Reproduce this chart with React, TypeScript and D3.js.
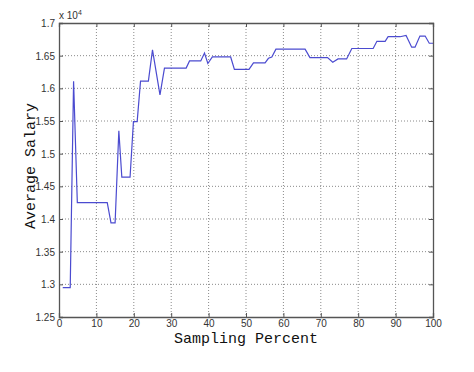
import * as d3 from "d3";
import { useEffect, useRef } from "react";

const W = 474;
const H = 372;
const margin = { top: 23, right: 41, bottom: 55, left: 59 };

// sampling percent vs average salary (x 10^4)
const percent = [1, 3, 3.9, 4.9, 12.9, 13.9, 15, 16, 16.8, 19, 19.9, 20.9, 21.8, 23.9, 25, 27, 28.2, 34, 34.9, 37.9, 38.9, 39.8, 41, 45.9, 46.9, 50.8, 52, 55.1, 56, 56.9, 58, 65.8, 67.1, 71.8, 73.2, 74.6, 76.9, 78.3, 84, 85, 87.2, 88, 91.2, 92.8, 94.3, 95.2, 96.5, 97.9, 99, 100];
const salary = [1.295, 1.295, 1.611, 1.425, 1.425, 1.394, 1.394, 1.535, 1.464, 1.464, 1.549, 1.549, 1.611, 1.611, 1.659, 1.59, 1.631, 1.631, 1.642, 1.642, 1.654, 1.638, 1.648, 1.648, 1.629, 1.629, 1.639, 1.639, 1.646, 1.648, 1.66, 1.66, 1.647, 1.647, 1.64, 1.645, 1.645, 1.661, 1.661, 1.672, 1.672, 1.679, 1.679, 1.681, 1.663, 1.663, 1.68, 1.68, 1.669, 1.669];

const xTicks = [0, 10, 20, 30, 40, 50, 60, 70, 80, 90, 100];
const yTicks = [1.25, 1.3, 1.35, 1.4, 1.45, 1.5, 1.55, 1.6, 1.65, 1.7];

export default function App() {
  const svgRef = useRef<SVGSVGElement>(null);

  useEffect(() => {
    const svg = d3.select(svgRef.current);
    svg.selectAll("*").remove();

    const iw = W - margin.left - margin.right;
    const ih = H - margin.top - margin.bottom;

    const x = d3.scaleLinear().domain([0, 100]).range([0, iw]);
    const y = d3.scaleLinear().domain([1.25, 1.7]).range([ih, 0]);

    const g = svg.append("g").attr("transform", `translate(${margin.left},${margin.top})`);

    // dotted grid
    g.selectAll(".gx")
      .data(xTicks.slice(1, -1))
      .enter()
      .append("line")
      .attr("x1", d => x(d)).attr("x2", d => x(d))
      .attr("y1", 0).attr("y2", ih)
      .attr("stroke", "#8a8a8a")
      .attr("stroke-width", 1)
      .attr("stroke-dasharray", "1,2");
    g.selectAll(".gy")
      .data(yTicks.slice(1, -1))
      .enter()
      .append("line")
      .attr("x1", 0).attr("x2", iw)
      .attr("y1", d => y(d)).attr("y2", d => y(d))
      .attr("stroke", "#8a8a8a")
      .attr("stroke-width", 1)
      .attr("stroke-dasharray", "1,2");

    // data line
    const pts = percent.map((p, i) => [p, salary[i]] as [number, number]);
    const line = d3.line<[number, number]>().x(d => x(d[0])).y(d => y(d[1]));
    g.append("path")
      .attr("d", line(pts))
      .attr("fill", "none")
      .attr("stroke", "#4b4bd0")
      .attr("stroke-width", 1.2);

    // box with inward ticks on all four sides
    const tl = 4;
    const axisColor = "#555";
    const bottom = g.append("g").attr("transform", `translate(0,${ih})`)
      .call(d3.axisBottom(x).tickValues(xTicks).tickSize(-tl).tickPadding(3).tickFormat(d3.format("d")));
    const top = g.append("g").call(d3.axisTop(x).tickValues(xTicks).tickSize(-tl).tickFormat(() => ""));
    const left = g.append("g")
      .call(d3.axisLeft(y).tickValues(yTicks).tickSize(-tl).tickPadding(4).tickFormat(d => String(+d)));
    const right = g.append("g").attr("transform", `translate(${iw},0)`)
      .call(d3.axisRight(y).tickValues(yTicks).tickSize(-tl).tickFormat(() => ""));

    [bottom, top, left, right].forEach(a => {
      a.select(".domain").attr("stroke", axisColor).attr("stroke-width", 1.3);
      a.selectAll(".tick line").attr("stroke", axisColor);
      a.selectAll("text")
        .attr("fill", "#333")
        .style("font-family", "Arial, 'Liberation Sans', sans-serif")
        .style("font-size", "10px");
    });
    left.selectAll(".tick text").attr("dy", "0.35em");

    // exponent label
    const ex = g.append("text")
      .attr("x", 0).attr("y", -4)
      .attr("fill", "#333")
      .style("font-family", "Arial, 'Liberation Sans', sans-serif")
      .style("font-size", "10px");
    ex.append("tspan").text("x 10");
    ex.append("tspan").attr("dy", -4).style("font-size", "7px").text("4");

    // axis titles
    svg.append("text")
      .attr("x", margin.left + iw / 2)
      .attr("y", H - 29)
      .attr("text-anchor", "middle")
      .attr("fill", "#111")
      .style("font-family", "'Liberation Mono', 'Courier New', monospace")
      .style("font-size", "15px")
      .text("Sampling Percent");

    svg.append("text")
      .attr("transform", `translate(35,${margin.top + ih / 2 - 4}) rotate(-90)`)
      .attr("text-anchor", "middle")
      .attr("fill", "#111")
      .style("font-family", "'Liberation Mono', 'Courier New', monospace")
      .style("font-size", "15px")
      .text("Average Salary");
  }, []);

  return (
    <svg
      ref={svgRef}
      width={W}
      height={H}
      style={{ position: "absolute", left: 0, top: 0, background: "#fff" }}
    />
  );
}
